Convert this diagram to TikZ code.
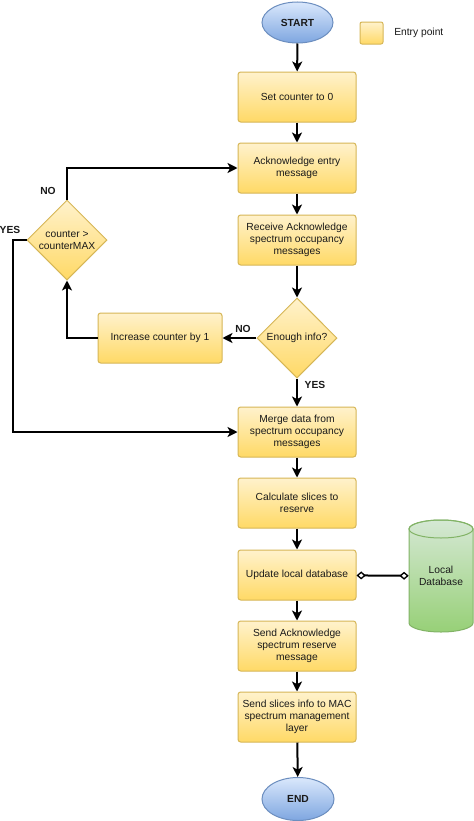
\documentclass[tikz,border=0pt]{standalone}
\usepackage{fontspec}
\setmainfont{Liberation Sans}
\usetikzlibrary{shapes.geometric,arrows.meta}
\definecolor{ybd}{HTML}{D6B656}
\definecolor{ytop}{HTML}{FFF2CC}
\definecolor{ybot}{HTML}{FFD966}
\definecolor{bbd}{HTML}{6C8EBF}
\definecolor{btop}{HTML}{DAE8FC}
\definecolor{bbot}{HTML}{7EA6E0}
\definecolor{gbd}{HTML}{82B366}
\definecolor{gtop}{HTML}{D5E8D4}
\definecolor{gbot}{HTML}{97D077}
\definecolor{txt}{HTML}{1A1A1A}
\begin{document}
\begin{tikzpicture}[x=0.75pt,y=-0.75pt,
  font=\fontsize{7.7}{8.8}\selectfont, text=txt,
  proc/.style={draw=ybd, line width=0.75pt, rounded corners=2pt, top color=ytop, bottom color=ybot,
    minimum width=88.5pt, minimum height=37.5pt, align=center, inner sep=1pt},
  term/.style={ellipse, draw=bbd, line width=0.75pt, top color=btop, bottom color=bbot,
    minimum width=53.25pt, minimum height=30.75pt, font=\fontsize{7.7}{8.8}\selectfont\bfseries, inner sep=0pt},
  dec/.style={diamond, draw=ybd, line width=0.75pt, top color=ytop, bottom color=ybot,
    minimum width=60pt, minimum height=60pt, inner sep=0pt, aspect=1, align=center},
  flow/.style={line width=1.5pt, -{Stealth[length=7.5pt,width=7.5pt,inset=2pt]}},
  lbl/.style={font=\fontsize{7.7}{8.8}\selectfont\bfseries, inner sep=0pt}
]
\fill[white] (0,0) rectangle (474,821);
\useasboundingbox (0,0) rectangle (474,821);

% nodes
\node[term] (start) at (297.5,22.5) {START};
\node[proc, minimum width=17.25pt, minimum height=16.5pt, rounded corners=1.5pt] (leg) at (371.5,33) {};
\node[anchor=west, inner sep=0pt] (legt) at (394,33) {Entry point};
\node[proc] (set) at (297,97) {Set counter to 0};
\node[proc] (ack) at (297,168) {Acknowledge entry\\message};
\node[proc] (recv) at (297,240) {Receive Acknowledge\\spectrum occupancy\\messages};
\node[dec] (enough) at (297,338) {Enough info?};
\node[proc, minimum width=93pt] (inc) at (160,338) {Increase counter by 1};
\node[dec] (cmp) at (67,240) {counter \textgreater\\counterMAX};
\node[proc] (merge) at (297,432) {Merge data from\\spectrum occupancy\\messages};
\node[proc] (calc) at (297,503) {Calculate slices to\\reserve};
\node[proc] (upd) at (297,575) {Update local database};
\node[proc] (send) at (297,646) {Send Acknowledge\\spectrum reserve\\message};
\node[proc] (slices) at (297,717) {Send slices info to MAC\\spectrum management\\layer};
\node[term, minimum width=54pt, minimum height=32.25pt] (end) at (298,799) {END};

% database cylinder
\shade[draw=gbd, line width=0.75pt, top color=gtop, bottom color=gbot]
  (409,529) -- (409,623) arc[start angle=180, end angle=0, x radius=32, y radius=9]
  -- (473,529) arc[start angle=0, end angle=-180, x radius=32, y radius=9] -- cycle;
\draw[gbd, line width=0.75pt] (441,529) ellipse[x radius=32, y radius=9];
\node[minimum width=48pt, minimum height=85.5pt, inner sep=0pt, align=center] (db) at (441,576) {Local\\Database};

% connectors
\draw[flow] (start) -- (set);
\draw[flow] (set) -- (ack);
\draw[flow] (ack) -- (recv);
\draw[flow] (recv) -- (enough);
\draw[flow] (enough) -- (inc);
\draw[flow] (inc.west) -| (cmp.south);
\draw[flow] (cmp.north) |- (ack.west);
\draw[flow] (cmp.west) -- ++(-14,0) |- (merge.west);
\draw[flow] (enough) -- (merge);
\draw[flow] (merge) -- (calc);
\draw[flow] (calc) -- (upd);
\draw[flow] (upd) -- (send);
\draw[flow] (send) -- (slices);
\draw[flow] (slices) -- (end);
\draw[line width=1.5pt, {Diamond[fill=white,length=7pt,width=6pt,line width=1pt]}-{Diamond[fill=white,length=7pt,width=6pt,line width=1pt]}] (upd) -- (db);

% labels
\node[lbl] (lno1) at (243,329) {NO};
\node[lbl] (lno2) at (48,191) {NO};
\node[lbl] (lyes1) at (10,230) {YES};
\node[lbl] (lyes2) at (315,385) {YES};
\end{tikzpicture}
\end{document}
